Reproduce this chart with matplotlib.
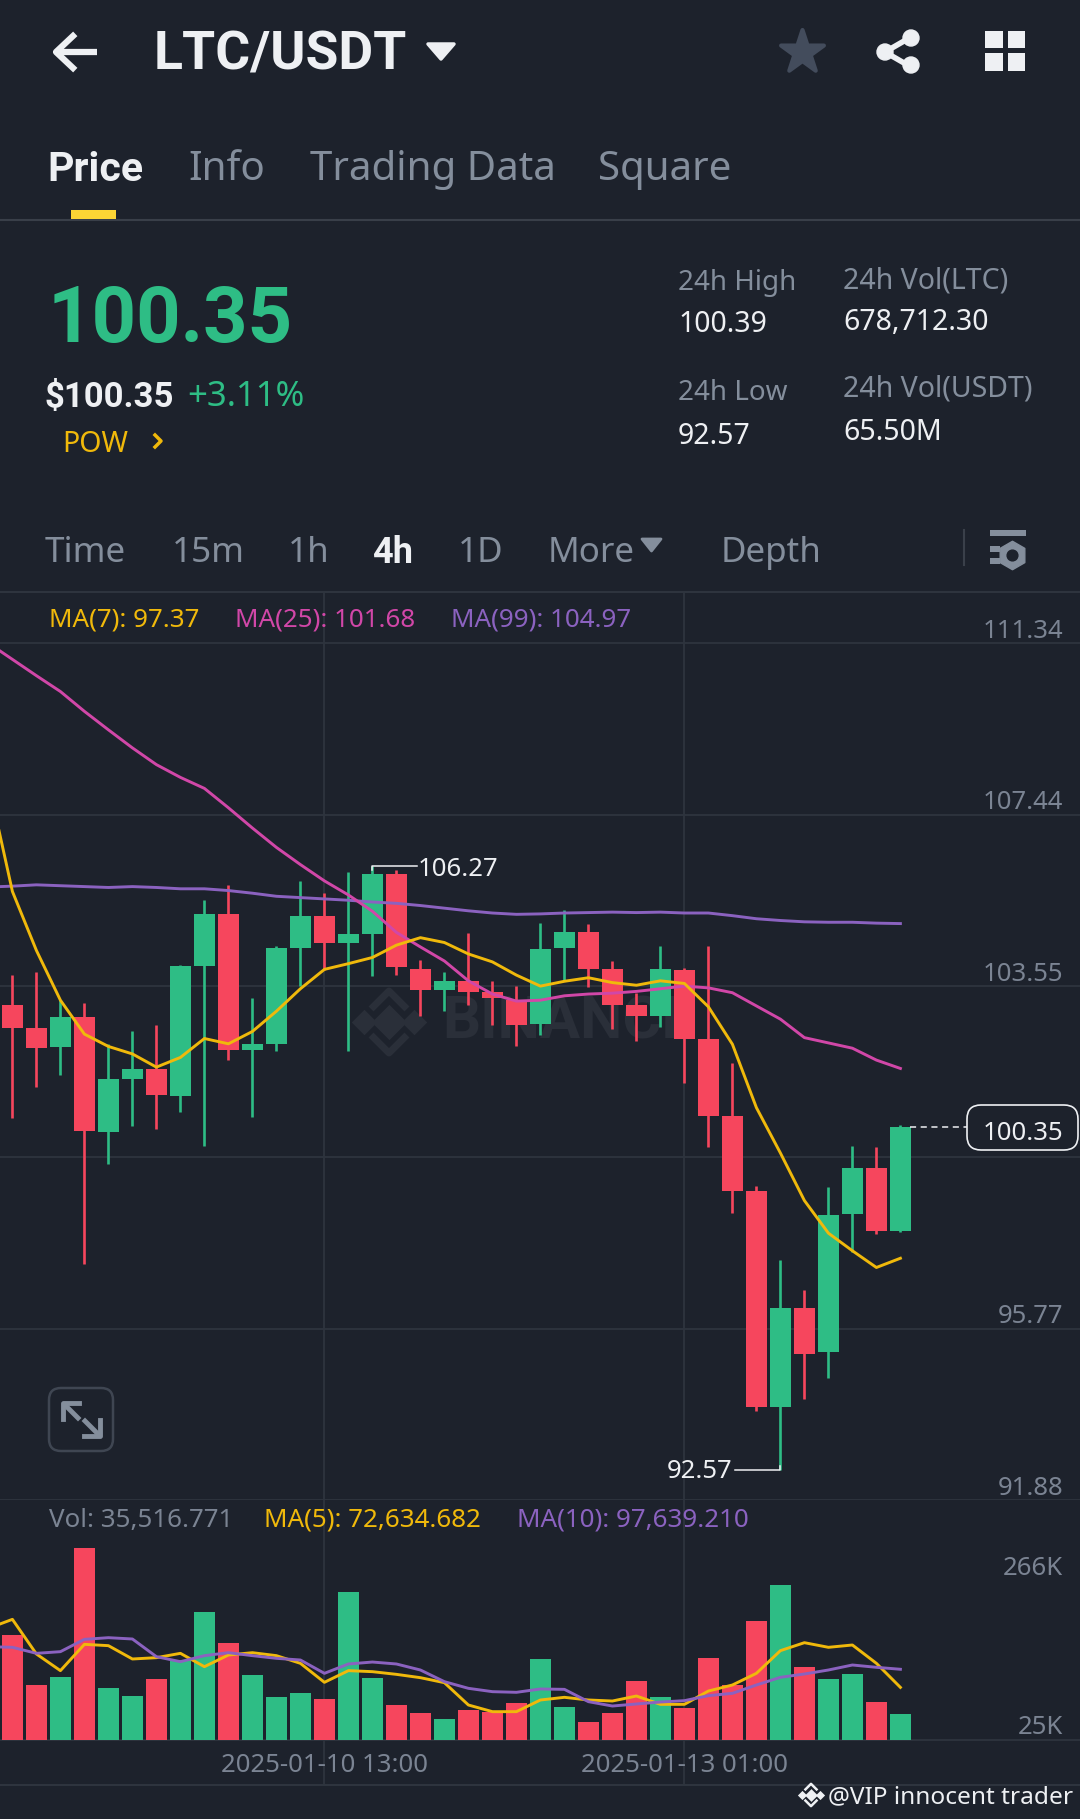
import matplotlib
matplotlib.use('Agg')
import matplotlib.pyplot as plt
from matplotlib.patches import FancyBboxPatch, Rectangle, Circle

plt.rcParams['font.family'] = ['Noto Sans', 'DejaVu Sans']
BOLD_FONT = ['Roboto', 'DejaVu Sans']

BG = '#1d222c'
GRID = '#2e343e'
GRAY = '#848e9c'
DIM = '#7b8493'
WHITE = '#eef0f3'
GREEN = '#2ebd85'
RED = '#f6465d'
YELLOW = '#f0b90b'
PINK = '#d147a8'
PURPLE = '#8b62c0'
MARK = '#2a2f39'

# candles, index 0..37 (4h)
opens = [103.13, 102.60, 102.16, 102.85, 100.23, 101.45, 101.67, 101.06, 104.00, 105.19,
         102.11, 102.24, 104.41, 105.15, 104.52, 104.73, 106.10, 103.94, 103.46, 103.67,
         103.41, 103.24, 102.68, 104.41, 104.77, 103.94, 103.12, 102.88, 103.91, 102.34,
         100.60, 98.89, 94.00, 96.24, 95.23, 98.37, 99.43, 97.99]
highs = [103.81, 103.88, 103.23, 103.17, 102.24, 102.52, 102.66, 104.02, 105.50, 105.85,
         103.27, 104.46, 105.93, 105.66, 106.15, 106.27, 106.19, 104.14, 103.88, 104.75,
         103.67, 103.55, 104.99, 105.28, 104.95, 104.12, 103.39, 104.46, 103.96, 104.47,
         101.81, 99.01, 97.32, 96.65, 98.99, 99.92, 99.90, 100.39]
lows = [100.55, 101.27, 101.53, 97.25, 99.50, 100.37, 100.31, 100.70, 99.92, 101.87,
        100.57, 102.07, 103.55, 103.92, 102.07, 103.77, 103.81, 102.86, 102.98, 103.11,
        102.66, 102.19, 102.43, 103.67, 103.54, 102.58, 102.30, 102.62, 101.35, 99.90,
        98.40, 93.91, 92.57, 94.18, 94.65, 97.52, 97.92, 97.97]
closes = [102.60, 102.14, 102.85, 100.25, 101.45, 101.67, 101.07, 104.00, 105.19, 102.09,
          102.24, 104.41, 105.15, 104.52, 104.73, 106.10, 103.98, 103.46, 103.67, 103.41,
          103.27, 102.66, 104.40, 104.77, 103.94, 103.12, 102.87, 103.93, 102.34, 100.61,
          98.90, 93.99, 96.24, 95.20, 98.36, 99.43, 97.98, 100.35]

# moving averages, index -1..37 (first point is off the left edge)
ma7 = [108.17, 105.70, 104.36, 103.23, 102.46, 102.18, 102.01, 101.71, 101.93, 102.36,
       102.24, 102.52, 102.98, 103.49, 103.93, 104.06, 104.20, 104.48, 104.65, 104.54,
       104.28, 104.10, 103.80, 103.55, 103.66, 103.74, 103.63, 103.57, 103.67, 103.61,
       103.08, 102.23, 100.79, 99.76, 98.68, 97.94, 97.54, 97.16, 97.37]
ma25 = [111.34, 110.97, 110.60, 110.24, 109.79, 109.37, 108.96, 108.58, 108.29, 108.04,
        107.60, 107.14, 106.70, 106.31, 105.94, 105.62, 105.25, 104.77, 104.44, 104.12,
        103.67, 103.37, 103.21, 103.23, 103.33, 103.37, 103.39, 103.43, 103.49, 103.55,
        103.51, 103.40, 103.10, 102.80, 102.38, 102.26, 102.14, 101.87, 101.68]
ma99 = [105.80, 105.82, 105.85, 105.83, 105.81, 105.79, 105.81, 105.79, 105.76, 105.76,
        105.72, 105.66, 105.59, 105.56, 105.53, 105.50, 105.46, 105.43, 105.38, 105.32,
        105.26, 105.21, 105.18, 105.19, 105.21, 105.22, 105.23, 105.22, 105.23, 105.21,
        105.21, 105.15, 105.08, 105.04, 105.01, 105.00, 105.00, 104.98, 104.97]

# volume in thousands
volumes = [145.4, 75.9, 86.5, 265.0, 72.2, 60.7, 84.6, 110.4, 176.6, 133.4,
           89.2, 58.9, 64.4, 57.0, 203.8, 85.6, 48.3, 37.3, 28.5, 41.4,
           39.1, 51.1, 111.3, 46.0, 24.8, 37.3, 81.4, 58.9, 44.6, 112.7,
           75.9, 164.2, 213.4, 100.7, 83.7, 91.1, 52.4, 35.5]
vol_ma5 = [154.1, 166.5, 118.7, 95.7, 132.0, 130.2, 111.8, 113.6, 119.6, 101.2,
           117.3, 120.5, 116.4, 105.8, 79.6, 95.7, 94.3, 90.6, 86.0, 79.1,
           48.3, 39.1, 39.1, 55.2, 58.9, 55.2, 53.8, 60.7, 49.2, 49.2,
           67.6, 75.9, 92.0, 123.3, 134.3, 127.9, 131.1, 105.8, 72.6]
vol_ma10 = [128.8, 127.9, 119.6, 121.9, 138.9, 141.2, 139.4, 115.0, 108.1, 116.4,
            120.5, 116.4, 112.7, 110.4, 92.0, 104.9, 107.6, 104.9, 96.6, 80.5,
            71.3, 66.7, 65.8, 70.4, 69.9, 52.9, 46.9, 49.7, 52.4, 54.3,
            61.2, 64.4, 75.9, 86.5, 91.1, 96.6, 103.5, 100.3, 97.6]

price_ticks = [111.34, 107.44, 103.55, 99.66, 95.77, 91.88]
price_tick_labels = ['111.34', '107.44', '103.55', '', '95.77', '91.88']
date_ticks = [13, 28]
date_labels = ['2025-01-10 13:00', '2025-01-13 01:00']

W, H = 1080, 1819
fig = plt.figure(figsize=(W / 100, H / 100), dpi=100, facecolor=BG)


def px_axes(left, top, right, bottom, z):
    ax = fig.add_axes([left / W, 1 - bottom / H, (right - left) / W, (bottom - top) / H], zorder=z)
    ax.patch.set_alpha(0)
    for s in ax.spines.values():
        s.set_visible(False)
    return ax


ui = px_axes(0, 0, W, H, 5)
ui.set_xlim(0, W)
ui.set_ylim(H, 0)
ui.axis('off')


def txt(x, y, s, size, color=GRAY, bold=False, ha='left'):
    if bold:
        ui.text(x, y, s, fontsize=size, color=color, fontweight='bold', family=BOLD_FONT,
                ha=ha, va='center')
    else:
        ui.text(x, y, s, fontsize=size, color=color, ha=ha, va='center')


def binance_mark(a, cx, cy, r, color, **kw):
    # centre diamond, side diamonds and the top/bottom chevrons
    a.scatter([cx], [cy], marker='D', s=(r * 0.72) ** 2, color=color, lw=0, **kw)
    a.scatter([cx - r, cx + r], [cy, cy], marker='D', s=(r * 0.52) ** 2, color=color, lw=0, **kw)
    for sign in (-1, 1):
        a.plot([cx - r * 0.62, cx, cx + r * 0.62],
               [cy + sign * r * 0.62, cy + sign * r * 1.24, cy + sign * r * 0.62],
               color=color, lw=r * 0.2, **kw)


xlim = (-0.517, 44.483)
ax = px_axes(0, 592, W, 1500, 1)
ax.set_xlim(xlim)
ax.set_ylim(91.88, 112.50)
ax.set_xticks(date_ticks)
ax.set_yticks(price_ticks)
ax.tick_params(length=0, labelbottom=False, labelleft=False)
ax.grid(color=GRID, lw=1.3)
ax.set_axisbelow(True)

# faint BINANCE mark behind the candles
ax.text(442, 1022, 'BINANCE', transform=ui.transData, fontsize=43, color=MARK,
        fontweight='bold', family=BOLD_FONT, ha='left', va='center', zorder=0.5)
binance_mark(ax, 389, 1022, 25, MARK, transform=ui.transData, zorder=0.5)

x = list(range(len(opens)))
colors = [GREEN if c >= o else RED for o, c in zip(opens, closes)]
ax.vlines(x, lows, highs, colors=colors, lw=1.9, zorder=2)
ax.bar(x, [abs(c - o) for o, c in zip(opens, closes)],
       bottom=[min(o, c) for o, c in zip(opens, closes)], width=0.87, color=colors, zorder=2)

xma = list(range(-1, len(opens)))
ax.plot(xma, ma99, color=PURPLE, lw=2.1, zorder=3)
ax.plot(xma, ma25, color=PINK, lw=2.1, zorder=3)
ax.plot(xma, ma7, color=YELLOW, lw=2.1, zorder=3)

for v, lab in zip(price_ticks, price_tick_labels):
    ax.annotate(lab, (1, v), xycoords=ax.get_yaxis_transform(), xytext=(-17, 12),
                textcoords='offset pixels', ha='right', va='center', fontsize=18.5, color=DIM)

# highest / lowest markers
ax.plot([15, 15, 16.85], [106.19, 106.27, 106.27], color=WHITE, lw=1.1, zorder=4)
ax.annotate('106.27', (16.95, 106.27), xytext=(-2, -3), textcoords='offset pixels',
            color=WHITE, fontsize=18.5, va='center', zorder=4)
ax.plot([32, 32, 30.1], [92.65, 92.57, 92.57], color=WHITE, lw=1.1, zorder=4)
ax.annotate('92.57', (30.0, 92.57), xytext=(0, -2), textcoords='offset pixels',
            color=WHITE, fontsize=18.5, va='center', ha='right', zorder=4)

# last price tag
ax.plot([37.4, 40.2], [closes[-1], closes[-1]], color=WHITE, lw=1.1, ls=(0, (4, 3)), zorder=4)
ui.add_patch(FancyBboxPatch((967, 1105), 111, 45, boxstyle='round,pad=0,rounding_size=14',
                            fc=BG, ec=WHITE, lw=1.2))
txt(1063, 1133, '100.35', 18.5, WHITE, ha='right')

# volume panel
vax = px_axes(0, 1500, W, 1785, 1)
vax.set_xlim(xlim)
vax.set_ylim(-62.1, 331.2)
vax.bar(x, volumes, width=0.87, color=colors, zorder=2)
vax.plot(xma, vol_ma5, color=YELLOW, lw=2.1, zorder=3)
vax.plot(xma, vol_ma10, color=PURPLE, lw=2.1, zorder=3)
vax.set_yticks([0])
vax.set_xticks(date_ticks)
vax.set_xticklabels(date_labels, fontsize=18.5, color=DIM)
vax.tick_params(length=0, labelleft=False)
vax.tick_params(axis='x', pad=-23)
vax.grid(color=GRID, lw=1.3)
vax.set_axisbelow(True)
vax.annotate('266K', (1, 266), xycoords=vax.get_yaxis_transform(), xytext=(-17, -21),
             textcoords='offset pixels', ha='right', va='center', fontsize=18.5, color=DIM)
vax.annotate('25K', (1, 25), xycoords=vax.get_yaxis_transform(), xytext=(-17, -6),
             textcoords='offset pixels', ha='right', va='center', fontsize=18.5, color=DIM)

# header
ui.plot([59, 97], [52, 52], color=WHITE, lw=4.5, solid_capstyle='butt')
ui.plot([73, 56, 73], [36, 52, 68], color=WHITE, lw=4.5)
txt(154, 55, 'LTC/USDT', 38.5, WHITE, True)
ui.fill([428, 454, 441], [44, 44, 59], color=WHITE, lw=2.5, joinstyle='round')
ui.scatter([802], [52], marker='*', s=1050, color='#434c5c', lw=3, edgecolor='#434c5c')
ui.plot([911, 885, 911], [37, 52, 67], color=WHITE, lw=4)
for cx, cy in [(911, 38), (885, 52), (911, 65)]:
    ui.add_patch(Circle((cx, cy), 8, color=WHITE))
for rx, ry in [(985, 31), (1007.5, 31), (985, 53.5), (1007.5, 53.5)]:
    ui.add_patch(Rectangle((rx, ry), 17.5, 17.5, color=WHITE, lw=0))

# tabs
txt(47, 170, 'Price', 29.5, WHITE, True)
txt(188, 170, 'Info', 29, GRAY)
txt(310, 170, 'Trading Data', 29, GRAY)
txt(598, 170, 'Square', 29, GRAY)
ui.add_patch(Rectangle((71, 210), 45, 9, color='#fcd535', lw=0))
ui.plot([0, W], [220, 220], color='#393f49', lw=1.5, zorder=0)

# price block
txt(48, 321, '100.35', 56, GREEN, True)
txt(44, 397, '$100.35', 25, WHITE, True)
txt(187, 397, '+3.11%', 25, GREEN)
txt(62, 444, 'POW', 20.5, YELLOW)
ui.plot([155, 161, 155], [435, 441, 447], color=YELLOW, lw=2.5)

txt(678, 283, '24h High', 20)
txt(678, 325, '100.39', 20.5, WHITE)
txt(678, 393, '24h Low', 20)
txt(678, 436, '92.57', 20.5, WHITE)
txt(843, 281, '24h Vol(LTC)', 20.5)
txt(843, 322, '678,712.30', 20.5, WHITE)
txt(843, 389, '24h Vol(USDT)', 20.5)
txt(843, 432, '65.50M', 20.5, WHITE)

# interval row
for xp, s in [(45, 'Time'), (172, '15m'), (288, '1h'), (458, '1D'), (548, 'More'), (721, 'Depth')]:
    txt(xp, 553, s, 25.2)
txt(372, 553, '4h', 26, WHITE, True)
ui.fill([642, 661, 651.5], [539, 539, 551], color=GRAY, lw=2, joinstyle='round')
ui.plot([964, 964], [530, 565], color='#3a404a', lw=1.5)
ui.add_patch(Rectangle((990, 530), 36, 6, color=GRAY, lw=0))
ui.add_patch(Rectangle((990, 546), 10, 6, color=GRAY, lw=0))
ui.add_patch(Rectangle((990, 558), 10, 6, color=GRAY, lw=0))
ui.scatter([1012], [555], marker='h', s=420, color=GRAY)
ui.scatter([1012], [555], marker='o', s=60, color=BG)
ui.plot([0, W], [592, 592], color=GRID, lw=1.5, zorder=0)

# indicator legends
txt(49, 620, 'MA(7): 97.37', 18.7, YELLOW)
txt(235, 620, 'MA(25): 101.68', 18.7, PINK)
txt(451, 620, 'MA(99): 104.97', 18.7, PURPLE)
txt(49, 1520, 'Vol: 35,516.771', 18.7, DIM)
txt(264, 1520, 'MA(5): 72,634.682', 18.7, YELLOW)
txt(517, 1520, 'MA(10): 97,639.210', 18.7, PURPLE)
ui.plot([0, W], [1785, 1785], color=GRID, lw=1.5, zorder=0)

# expand button
ui.add_patch(FancyBboxPatch((49, 1388), 64, 63, boxstyle='round,pad=0,rounding_size=12',
                            fc='none', ec='#3f4652', lw=1.8))
ui.plot([66, 78], [1406, 1418], color=GRAY, lw=3.5)
ui.plot([63, 63, 79], [1419, 1403, 1403], color=GRAY, lw=3.5)
ui.plot([97, 85], [1433, 1421], color=GRAY, lw=3.5)
ui.plot([100, 100, 84], [1420, 1436, 1436], color=GRAY, lw=3.5)

# bottom right watermark
binance_mark(ui, 811, 1795, 9, WHITE)
txt(828, 1797, '@VIP innocent trader', 17.6, WHITE)

fig.savefig('out.png', dpi=100, facecolor=BG)
